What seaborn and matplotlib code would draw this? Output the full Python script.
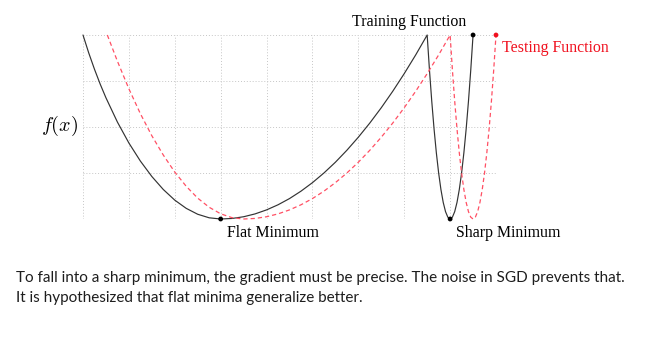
import matplotlib
matplotlib.use("Agg")
import matplotlib.pyplot as plt
import seaborn as sns

# ---------------- data ----------------
train_x = [0.0, 0.125, 0.25, 0.375, 0.5, 0.75, 1.0, 1.25, 1.5, 1.75, 2.0, 2.25, 2.5, 2.75, 3.0,
           3.25, 3.5, 3.75, 4.0, 4.25, 4.5, 4.75, 5.0, 5.25, 5.5, 5.75, 6.0, 6.25, 6.5, 6.75, 7.0,
           7.25, 7.5,
           7.55, 7.6, 7.65, 7.7, 7.75, 7.8, 7.85, 7.9, 7.95, 8.0,
           8.05, 8.1, 8.15, 8.2, 8.25, 8.3, 8.35, 8.4, 8.45, 8.5]
train_y = [4.0, 3.61, 3.256, 2.931, 2.635, 2.107, 1.652, 1.26, 0.924, 0.641, 0.41, 0.231, 0.103, 0.026, 0.0,
           0.012, 0.049, 0.111, 0.198, 0.309, 0.444, 0.605, 0.79, 1.0, 1.234, 1.494, 1.778, 2.086,
           2.419, 2.777, 3.16, 3.567, 4.0,
           3.24, 2.56, 1.96, 1.44, 1.0, 0.64, 0.36, 0.16, 0.04, 0.0,
           0.04, 0.16, 0.36, 0.64, 1.0, 1.44, 1.96, 2.56, 3.24, 4.0]

test_x = [0.53, 0.75, 1.0, 1.25, 1.5, 1.75, 2.0, 2.25, 2.5, 2.75, 3.0, 3.25, 3.5,
          3.75, 4.0, 4.25, 4.5, 4.75, 5.0, 5.25, 5.5, 5.75, 6.0, 6.25, 6.5, 6.75, 7.0, 7.25, 7.5,
          7.75, 8.0,
          8.05, 8.1, 8.15, 8.2, 8.25, 8.3, 8.35, 8.4, 8.45, 8.5,
          8.55, 8.6, 8.65, 8.7, 8.75, 8.8, 8.85, 8.9, 8.95, 9.0]
test_y = [4.0, 3.43, 2.83, 2.29, 1.81, 1.39, 1.02, 0.71, 0.453, 0.255, 0.113, 0.028, 0.0,
          0.012, 0.049, 0.111, 0.198, 0.309, 0.444, 0.605, 0.79, 1.0, 1.234, 1.494, 1.778, 2.086,
          2.419, 2.777, 3.16, 3.567, 4.0,
          3.24, 2.56, 1.96, 1.44, 1.0, 0.64, 0.36, 0.16, 0.04, 0.0,
          0.04, 0.16, 0.36, 0.64, 1.0, 1.44, 1.96, 2.56, 3.24, 4.0]

train_dot_x = [3.0, 8.0, 8.5]
train_dot_y = [0.0, 0.0, 4.0]
test_dot_x = [9.0]
test_dot_y = [4.0]

label_train = "Training Function"
label_test = "Testing Function"
label_flat = "Flat Minimum"
label_sharp = "Sharp Minimum"
label_y = r"$f(x)$"
caption = ["To fall into a sharp minimum, the gradient must be precise. The noise in SGD prevents that.",
           "It is hypothesized that flat minima generalize better."]

# ---------------- figure ----------------
sns.set_theme(style="white")
plt.rcParams["font.family"] = ["Liberation Serif", "DejaVu Serif"]
plt.rcParams["mathtext.fontset"] = "cm"

W, H = 655, 339
fig = plt.figure(figsize=(W / 100, H / 100), dpi=100)
ax = fig.add_axes([83 / W, 1 - 219 / H, 413 / W, 184 / H])

black = "#333333"
red_line = "#ff5064"
red_text = "#f0101e"

sns.lineplot(x=train_x, y=train_y, sort=False, estimator=None, ax=ax,
             color=black, linewidth=0.85, clip_on=False)
sns.lineplot(x=test_x, y=test_y, sort=False, estimator=None, ax=ax,
             color=red_line, linewidth=0.9, clip_on=False)
ax.lines[-1].set_dashes((3.4, 2.4))
sns.scatterplot(x=train_dot_x, y=train_dot_y, ax=ax, color="black", s=12,
                edgecolor="none", clip_on=False, zorder=5)
sns.scatterplot(x=test_dot_x, y=test_dot_y, ax=ax, color=red_text, s=12,
                edgecolor="none", clip_on=False, zorder=5)

ax.set_xlim(0, 9)
ax.set_ylim(0, 4)
ax.set_xticks(range(0, 10))
ax.set_yticks(range(0, 5))
ax.tick_params(length=0, labelbottom=False, labelleft=False)
for s in ax.spines.values():
    s.set_visible(False)
ax.grid(True, color="#c6c6c6", linewidth=0.7, linestyle=(0, (1, 2)))
ax.set_axisbelow(True)
ax.set_xlabel("")
ax.set_ylabel("")

fs = 11.4
ax.text(7.11, 4.196, label_train, ha="center", va="baseline", fontsize=fs, color="black")
ax.text(9.12, 3.637, label_test, ha="left", va="baseline", fontsize=fs, color=red_text)
ax.text(3.14, -0.385, label_flat, ha="left", va="baseline", fontsize=fs, color="black")
ax.text(8.12, -0.385, label_sharp, ha="left", va="baseline", fontsize=fs, color="black")
ax.text(-0.52, 2.02, label_y, ha="center", va="center", fontsize=14.5, color="black")

# caption (sans serif, fitted to the reference width)
cap_font = ["Lato", "DejaVu Sans"]
t1 = fig.text(16 / W, 1 - 281.7 / H, caption[0], ha="left", va="baseline",
              fontsize=11, family=cap_font, color="#1e1e1e")
t2 = fig.text(16 / W, 1 - 301.7 / H, caption[1], ha="left", va="baseline",
              fontsize=11, family=cap_font, color="#1e1e1e")
fig.canvas.draw()
w = t1.get_window_extent().width
new_fs = 11 * 607 / w
t1.set_fontsize(new_fs)
t2.set_fontsize(new_fs)

fig.savefig("out.png", dpi=100)
